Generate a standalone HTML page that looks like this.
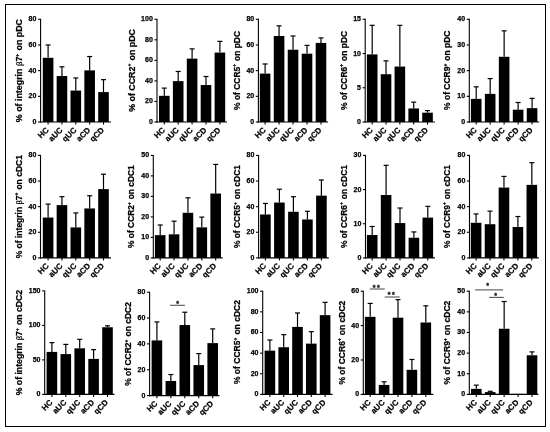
<!DOCTYPE html>
<html><head><meta charset="utf-8"><style>
html,body{margin:0;padding:0;background:#fff;}
body{width:550px;height:432px;overflow:hidden;}
svg{display:block;filter:blur(0.3px);}
text{font-family:"Liberation Sans", Arial, sans-serif;font-weight:bold;fill:#000;stroke:#000;stroke-width:0.25px;}
.tk{font-size:7.0px;text-anchor:end;}
.xl{font-size:8.0px;text-anchor:end;}
.yl{font-size:9.0px;text-anchor:middle;}
.sup{font-size:5px;}
.b{font-family:"Liberation Serif",serif;font-weight:normal;}
.ax{stroke:#000;stroke-width:1.1;}
.eb{stroke:#000;stroke-width:1.2;}
.sg{stroke:#555;stroke-width:1.1;}
.st{font-size:7px;text-anchor:middle;letter-spacing:1.4px;stroke-width:0.4px;fill:#222;stroke:#222;}
rect{fill:#000;}
</style></head><body>
<svg width="550" height="432" viewBox="0 0 550 432">
<rect x="5.5" y="4.5" width="540" height="422" fill="none" stroke="#000" stroke-width="1" style="fill:none"/>
<line x1="40.6" y1="18.8" x2="40.6" y2="122.6" class="ax"/>
<line x1="40" y1="122" x2="111" y2="122" class="ax"/>
<line x1="38" y1="122" x2="40.6" y2="122" class="ax"/>
<text x="36.4" y="124" class="tk">0</text>
<line x1="38" y1="96.33" x2="40.6" y2="96.33" class="ax"/>
<text x="36.4" y="98.33" class="tk">20</text>
<line x1="38" y1="70.65" x2="40.6" y2="70.65" class="ax"/>
<text x="36.4" y="72.65" class="tk">40</text>
<line x1="38" y1="44.98" x2="40.6" y2="44.98" class="ax"/>
<text x="36.4" y="46.98" class="tk">60</text>
<line x1="38" y1="19.3" x2="40.6" y2="19.3" class="ax"/>
<text x="36.4" y="21.3" class="tk">80</text>
<rect x="42.8" y="57.81" width="10.6" height="64.19"/>
<line x1="48.1" y1="44.98" x2="48.1" y2="57.81" class="eb"/>
<line x1="45.6" y1="44.98" x2="50.6" y2="44.98" class="eb"/>
<line x1="48.1" y1="122" x2="48.1" y2="124.6" class="ax"/>
<text x="49.3" y="130.6" class="xl" transform="rotate(-45 49.3 130.6)">HC</text>
<rect x="56.65" y="76.04" width="10.6" height="45.96"/>
<line x1="61.95" y1="66.8" x2="61.95" y2="76.04" class="eb"/>
<line x1="59.45" y1="66.8" x2="64.45" y2="66.8" class="eb"/>
<line x1="61.95" y1="122" x2="61.95" y2="124.6" class="ax"/>
<text x="63.15" y="130.6" class="xl" transform="rotate(-45 63.15 130.6)">aUC</text>
<rect x="70.5" y="90.55" width="10.6" height="31.45"/>
<line x1="75.8" y1="77.97" x2="75.8" y2="90.55" class="eb"/>
<line x1="73.3" y1="77.97" x2="78.3" y2="77.97" class="eb"/>
<line x1="75.8" y1="122" x2="75.8" y2="124.6" class="ax"/>
<text x="77" y="130.6" class="xl" transform="rotate(-45 77 130.6)">qUC</text>
<rect x="84.35" y="70.39" width="10.6" height="51.61"/>
<line x1="89.65" y1="56.53" x2="89.65" y2="70.39" class="eb"/>
<line x1="87.15" y1="56.53" x2="92.15" y2="56.53" class="eb"/>
<line x1="89.65" y1="122" x2="89.65" y2="124.6" class="ax"/>
<text x="90.85" y="130.6" class="xl" transform="rotate(-45 90.85 130.6)">aCD</text>
<rect x="98.2" y="92.09" width="10.6" height="29.91"/>
<line x1="103.5" y1="79.64" x2="103.5" y2="92.09" class="eb"/>
<line x1="101" y1="79.64" x2="106" y2="79.64" class="eb"/>
<line x1="103.5" y1="122" x2="103.5" y2="124.6" class="ax"/>
<text x="104.7" y="130.6" class="xl" transform="rotate(-45 104.7 130.6)">qCD</text>
<text x="22.4" y="70.6" class="yl" textLength="103.2" lengthAdjust="spacingAndGlyphs" transform="rotate(-90 22.4 70.6)">% of integrin <tspan class="b">β</tspan>7<tspan class="sup" dy="-3.6">+</tspan><tspan dy="3.6" dx="0.8"> on pDC</tspan></text>
<line x1="157" y1="18.8" x2="157" y2="122.6" class="ax"/>
<line x1="156.4" y1="122" x2="227" y2="122" class="ax"/>
<line x1="154.4" y1="122" x2="157" y2="122" class="ax"/>
<text x="152.8" y="124" class="tk">0</text>
<line x1="154.4" y1="101.46" x2="157" y2="101.46" class="ax"/>
<text x="152.8" y="103.46" class="tk">20</text>
<line x1="154.4" y1="80.92" x2="157" y2="80.92" class="ax"/>
<text x="152.8" y="82.92" class="tk">40</text>
<line x1="154.4" y1="60.38" x2="157" y2="60.38" class="ax"/>
<text x="152.8" y="62.38" class="tk">60</text>
<line x1="154.4" y1="39.84" x2="157" y2="39.84" class="ax"/>
<text x="152.8" y="41.84" class="tk">80</text>
<line x1="154.4" y1="19.3" x2="157" y2="19.3" class="ax"/>
<text x="152.8" y="21.3" class="tk">100</text>
<rect x="159" y="95.81" width="10.6" height="26.19"/>
<line x1="164.3" y1="88.11" x2="164.3" y2="95.81" class="eb"/>
<line x1="161.8" y1="88.11" x2="166.8" y2="88.11" class="eb"/>
<line x1="164.3" y1="122" x2="164.3" y2="124.6" class="ax"/>
<text x="165.5" y="130.6" class="xl" transform="rotate(-45 165.5 130.6)">HC</text>
<rect x="172.9" y="81.13" width="10.6" height="40.87"/>
<line x1="178.2" y1="71.47" x2="178.2" y2="81.13" class="eb"/>
<line x1="175.7" y1="71.47" x2="180.7" y2="71.47" class="eb"/>
<line x1="178.2" y1="122" x2="178.2" y2="124.6" class="ax"/>
<text x="179.4" y="130.6" class="xl" transform="rotate(-45 179.4 130.6)">aUC</text>
<rect x="186.8" y="58.63" width="10.6" height="63.37"/>
<line x1="192.1" y1="48.88" x2="192.1" y2="58.63" class="eb"/>
<line x1="189.6" y1="48.88" x2="194.6" y2="48.88" class="eb"/>
<line x1="192.1" y1="122" x2="192.1" y2="124.6" class="ax"/>
<text x="193.3" y="130.6" class="xl" transform="rotate(-45 193.3 130.6)">qUC</text>
<rect x="200.7" y="85.03" width="10.6" height="36.97"/>
<line x1="206" y1="76.5" x2="206" y2="85.03" class="eb"/>
<line x1="203.5" y1="76.5" x2="208.5" y2="76.5" class="eb"/>
<line x1="206" y1="122" x2="206" y2="124.6" class="ax"/>
<text x="207.2" y="130.6" class="xl" transform="rotate(-45 207.2 130.6)">aCD</text>
<rect x="214.6" y="52.57" width="10.6" height="69.43"/>
<line x1="219.9" y1="41.38" x2="219.9" y2="52.57" class="eb"/>
<line x1="217.4" y1="41.38" x2="222.4" y2="41.38" class="eb"/>
<line x1="219.9" y1="122" x2="219.9" y2="124.6" class="ax"/>
<text x="221.1" y="130.6" class="xl" transform="rotate(-45 221.1 130.6)">qCD</text>
<text x="134.7" y="70.4" class="yl" textLength="82.8" lengthAdjust="spacingAndGlyphs" transform="rotate(-90 134.7 70.4)">% of CCR2<tspan class="sup" dy="-3.6">+</tspan><tspan dy="3.6" dx="0.8"> on pDC</tspan></text>
<line x1="258.4" y1="18.8" x2="258.4" y2="122.6" class="ax"/>
<line x1="257.8" y1="122" x2="328.1" y2="122" class="ax"/>
<line x1="255.8" y1="122" x2="258.4" y2="122" class="ax"/>
<text x="254.2" y="124" class="tk">0</text>
<line x1="255.8" y1="96.33" x2="258.4" y2="96.33" class="ax"/>
<text x="254.2" y="98.33" class="tk">20</text>
<line x1="255.8" y1="70.65" x2="258.4" y2="70.65" class="ax"/>
<text x="254.2" y="72.65" class="tk">40</text>
<line x1="255.8" y1="44.98" x2="258.4" y2="44.98" class="ax"/>
<text x="254.2" y="46.98" class="tk">60</text>
<line x1="255.8" y1="19.3" x2="258.4" y2="19.3" class="ax"/>
<text x="254.2" y="21.3" class="tk">80</text>
<rect x="259.8" y="73.6" width="10.6" height="48.4"/>
<line x1="265.1" y1="63.97" x2="265.1" y2="73.6" class="eb"/>
<line x1="262.6" y1="63.97" x2="267.6" y2="63.97" class="eb"/>
<line x1="265.1" y1="122" x2="265.1" y2="124.6" class="ax"/>
<text x="266.3" y="130.6" class="xl" transform="rotate(-45 266.3 130.6)">HC</text>
<rect x="273.77" y="35.99" width="10.6" height="86.01"/>
<line x1="279.07" y1="25.85" x2="279.07" y2="35.99" class="eb"/>
<line x1="276.57" y1="25.85" x2="281.57" y2="25.85" class="eb"/>
<line x1="279.07" y1="122" x2="279.07" y2="124.6" class="ax"/>
<text x="280.27" y="130.6" class="xl" transform="rotate(-45 280.27 130.6)">aUC</text>
<rect x="287.74" y="49.72" width="10.6" height="72.28"/>
<line x1="293.04" y1="35.99" x2="293.04" y2="49.72" class="eb"/>
<line x1="290.54" y1="35.99" x2="295.54" y2="35.99" class="eb"/>
<line x1="293.04" y1="122" x2="293.04" y2="124.6" class="ax"/>
<text x="294.24" y="130.6" class="xl" transform="rotate(-45 294.24 130.6)">qUC</text>
<rect x="301.71" y="53.7" width="10.6" height="68.3"/>
<line x1="307.01" y1="45.36" x2="307.01" y2="53.7" class="eb"/>
<line x1="304.51" y1="45.36" x2="309.51" y2="45.36" class="eb"/>
<line x1="307.01" y1="122" x2="307.01" y2="124.6" class="ax"/>
<text x="308.21" y="130.6" class="xl" transform="rotate(-45 308.21 130.6)">aCD</text>
<rect x="315.68" y="42.92" width="10.6" height="79.08"/>
<line x1="320.98" y1="37.91" x2="320.98" y2="42.92" class="eb"/>
<line x1="318.48" y1="37.91" x2="323.48" y2="37.91" class="eb"/>
<line x1="320.98" y1="122" x2="320.98" y2="124.6" class="ax"/>
<text x="322.18" y="130.6" class="xl" transform="rotate(-45 322.18 130.6)">qCD</text>
<text x="239.7" y="70.45" class="yl" textLength="78.9" lengthAdjust="spacingAndGlyphs" transform="rotate(-90 239.7 70.45)">% of CCR5<tspan class="sup" dy="-3.6">+</tspan><tspan dy="3.6" dx="0.8"> on pDC</tspan></text>
<line x1="365.2" y1="18.8" x2="365.2" y2="122.6" class="ax"/>
<line x1="364.6" y1="122" x2="434.9" y2="122" class="ax"/>
<line x1="362.6" y1="122" x2="365.2" y2="122" class="ax"/>
<text x="361" y="124" class="tk">0</text>
<line x1="362.6" y1="87.77" x2="365.2" y2="87.77" class="ax"/>
<text x="361" y="89.77" class="tk">5</text>
<line x1="362.6" y1="53.53" x2="365.2" y2="53.53" class="ax"/>
<text x="361" y="55.53" class="tk">10</text>
<line x1="362.6" y1="19.3" x2="365.2" y2="19.3" class="ax"/>
<text x="361" y="21.3" class="tk">15</text>
<rect x="366.9" y="54.42" width="10.6" height="67.58"/>
<line x1="372.2" y1="25.33" x2="372.2" y2="54.42" class="eb"/>
<line x1="369.7" y1="25.33" x2="374.7" y2="25.33" class="eb"/>
<line x1="372.2" y1="122" x2="372.2" y2="124.6" class="ax"/>
<text x="373.4" y="130.6" class="xl" transform="rotate(-45 373.4 130.6)">HC</text>
<rect x="380.73" y="74.21" width="10.6" height="47.79"/>
<line x1="386.03" y1="60.86" x2="386.03" y2="74.21" class="eb"/>
<line x1="383.53" y1="60.86" x2="388.53" y2="60.86" class="eb"/>
<line x1="386.03" y1="122" x2="386.03" y2="124.6" class="ax"/>
<text x="387.23" y="130.6" class="xl" transform="rotate(-45 387.23 130.6)">aUC</text>
<rect x="394.56" y="66.54" width="10.6" height="55.46"/>
<line x1="399.86" y1="25.33" x2="399.86" y2="66.54" class="eb"/>
<line x1="397.36" y1="25.33" x2="402.36" y2="25.33" class="eb"/>
<line x1="399.86" y1="122" x2="399.86" y2="124.6" class="ax"/>
<text x="401.06" y="130.6" class="xl" transform="rotate(-45 401.06 130.6)">qUC</text>
<rect x="408.39" y="108.44" width="10.6" height="13.56"/>
<line x1="413.69" y1="102.14" x2="413.69" y2="108.44" class="eb"/>
<line x1="411.19" y1="102.14" x2="416.19" y2="102.14" class="eb"/>
<line x1="413.69" y1="122" x2="413.69" y2="124.6" class="ax"/>
<text x="414.89" y="130.6" class="xl" transform="rotate(-45 414.89 130.6)">aCD</text>
<rect x="422.22" y="112.69" width="10.6" height="9.31"/>
<line x1="427.52" y1="110.57" x2="427.52" y2="112.69" class="eb"/>
<line x1="425.02" y1="110.57" x2="430.02" y2="110.57" class="eb"/>
<line x1="427.52" y1="122" x2="427.52" y2="124.6" class="ax"/>
<text x="428.72" y="130.6" class="xl" transform="rotate(-45 428.72 130.6)">qCD</text>
<text x="346.65" y="70.4" class="yl" textLength="79" lengthAdjust="spacingAndGlyphs" transform="rotate(-90 346.65 70.4)">% of CCR6<tspan class="sup" dy="-3.6">+</tspan><tspan dy="3.6" dx="0.8"> on pDC</tspan></text>
<line x1="469.3" y1="18.8" x2="469.3" y2="122.6" class="ax"/>
<line x1="468.7" y1="122" x2="539.2" y2="122" class="ax"/>
<line x1="466.7" y1="122" x2="469.3" y2="122" class="ax"/>
<text x="465.1" y="124" class="tk">0</text>
<line x1="466.7" y1="96.33" x2="469.3" y2="96.33" class="ax"/>
<text x="465.1" y="98.33" class="tk">10</text>
<line x1="466.7" y1="70.65" x2="469.3" y2="70.65" class="ax"/>
<text x="465.1" y="72.65" class="tk">20</text>
<line x1="466.7" y1="44.98" x2="469.3" y2="44.98" class="ax"/>
<text x="465.1" y="46.98" class="tk">30</text>
<line x1="466.7" y1="19.3" x2="469.3" y2="19.3" class="ax"/>
<text x="465.1" y="21.3" class="tk">40</text>
<rect x="470.9" y="98.89" width="10.6" height="23.11"/>
<line x1="476.2" y1="86.83" x2="476.2" y2="98.89" class="eb"/>
<line x1="473.7" y1="86.83" x2="478.7" y2="86.83" class="eb"/>
<line x1="476.2" y1="122" x2="476.2" y2="124.6" class="ax"/>
<text x="477.4" y="130.6" class="xl" transform="rotate(-45 477.4 130.6)">HC</text>
<rect x="484.87" y="93.89" width="10.6" height="28.11"/>
<line x1="490.17" y1="78.61" x2="490.17" y2="93.89" class="eb"/>
<line x1="487.67" y1="78.61" x2="492.67" y2="78.61" class="eb"/>
<line x1="490.17" y1="122" x2="490.17" y2="124.6" class="ax"/>
<text x="491.37" y="130.6" class="xl" transform="rotate(-45 491.37 130.6)">aUC</text>
<rect x="498.84" y="56.79" width="10.6" height="65.21"/>
<line x1="504.14" y1="30.85" x2="504.14" y2="56.79" class="eb"/>
<line x1="501.64" y1="30.85" x2="506.64" y2="30.85" class="eb"/>
<line x1="504.14" y1="122" x2="504.14" y2="124.6" class="ax"/>
<text x="505.34" y="130.6" class="xl" transform="rotate(-45 505.34 130.6)">qUC</text>
<rect x="512.81" y="109.68" width="10.6" height="12.32"/>
<line x1="518.11" y1="102.49" x2="518.11" y2="109.68" class="eb"/>
<line x1="515.61" y1="102.49" x2="520.61" y2="102.49" class="eb"/>
<line x1="518.11" y1="122" x2="518.11" y2="124.6" class="ax"/>
<text x="519.31" y="130.6" class="xl" transform="rotate(-45 519.31 130.6)">aCD</text>
<rect x="526.78" y="108.14" width="10.6" height="13.86"/>
<line x1="532.08" y1="98.38" x2="532.08" y2="108.14" class="eb"/>
<line x1="529.58" y1="98.38" x2="534.58" y2="98.38" class="eb"/>
<line x1="532.08" y1="122" x2="532.08" y2="124.6" class="ax"/>
<text x="533.28" y="130.6" class="xl" transform="rotate(-45 533.28 130.6)">qCD</text>
<text x="450.4" y="70.25" class="yl" textLength="79.3" lengthAdjust="spacingAndGlyphs" transform="rotate(-90 450.4 70.25)">% of CCR9<tspan class="sup" dy="-3.6">+</tspan><tspan dy="3.6" dx="0.8"> on pDC</tspan></text>
<line x1="40.5" y1="154.9" x2="40.5" y2="258.5" class="ax"/>
<line x1="39.9" y1="257.9" x2="111" y2="257.9" class="ax"/>
<line x1="37.9" y1="257.9" x2="40.5" y2="257.9" class="ax"/>
<text x="36.3" y="259.9" class="tk">0</text>
<line x1="37.9" y1="232.27" x2="40.5" y2="232.27" class="ax"/>
<text x="36.3" y="234.27" class="tk">20</text>
<line x1="37.9" y1="206.65" x2="40.5" y2="206.65" class="ax"/>
<text x="36.3" y="208.65" class="tk">40</text>
<line x1="37.9" y1="181.03" x2="40.5" y2="181.03" class="ax"/>
<text x="36.3" y="183.03" class="tk">60</text>
<line x1="37.9" y1="155.4" x2="40.5" y2="155.4" class="ax"/>
<text x="36.3" y="157.4" class="tk">80</text>
<rect x="42.8" y="217.54" width="10.6" height="40.36"/>
<line x1="48.1" y1="204.09" x2="48.1" y2="217.54" class="eb"/>
<line x1="45.6" y1="204.09" x2="50.6" y2="204.09" class="eb"/>
<line x1="48.1" y1="257.9" x2="48.1" y2="260.5" class="ax"/>
<text x="49.3" y="266.5" class="xl" transform="rotate(-45 49.3 266.5)">HC</text>
<rect x="56.65" y="205.11" width="10.6" height="52.79"/>
<line x1="61.95" y1="196.66" x2="61.95" y2="205.11" class="eb"/>
<line x1="59.45" y1="196.66" x2="64.45" y2="196.66" class="eb"/>
<line x1="61.95" y1="257.9" x2="61.95" y2="260.5" class="ax"/>
<text x="63.15" y="266.5" class="xl" transform="rotate(-45 63.15 266.5)">aUC</text>
<rect x="70.5" y="227.41" width="10.6" height="30.49"/>
<line x1="75.8" y1="212.93" x2="75.8" y2="227.41" class="eb"/>
<line x1="73.3" y1="212.93" x2="78.3" y2="212.93" class="eb"/>
<line x1="75.8" y1="257.9" x2="75.8" y2="260.5" class="ax"/>
<text x="77" y="266.5" class="xl" transform="rotate(-45 77 266.5)">qUC</text>
<rect x="84.35" y="208.44" width="10.6" height="49.46"/>
<line x1="89.65" y1="195.76" x2="89.65" y2="208.44" class="eb"/>
<line x1="87.15" y1="195.76" x2="92.15" y2="195.76" class="eb"/>
<line x1="89.65" y1="257.9" x2="89.65" y2="260.5" class="ax"/>
<text x="90.85" y="266.5" class="xl" transform="rotate(-45 90.85 266.5)">aCD</text>
<rect x="98.2" y="189.1" width="10.6" height="68.8"/>
<line x1="103.5" y1="174.23" x2="103.5" y2="189.1" class="eb"/>
<line x1="101" y1="174.23" x2="106" y2="174.23" class="eb"/>
<line x1="103.5" y1="257.9" x2="103.5" y2="260.5" class="ax"/>
<text x="104.7" y="266.5" class="xl" transform="rotate(-45 104.7 266.5)">qCD</text>
<text x="21.9" y="206.7" class="yl" textLength="103.2" lengthAdjust="spacingAndGlyphs" transform="rotate(-90 21.9 206.7)">% of integrin <tspan class="b">β</tspan>7<tspan class="sup" dy="-3.6">+</tspan><tspan dy="3.6" dx="0.8"> on cDC1</tspan></text>
<line x1="153.3" y1="154.9" x2="153.3" y2="258.5" class="ax"/>
<line x1="152.7" y1="257.9" x2="222.7" y2="257.9" class="ax"/>
<line x1="150.7" y1="257.9" x2="153.3" y2="257.9" class="ax"/>
<text x="149.1" y="259.9" class="tk">0</text>
<line x1="150.7" y1="237.4" x2="153.3" y2="237.4" class="ax"/>
<text x="149.1" y="239.4" class="tk">10</text>
<line x1="150.7" y1="216.9" x2="153.3" y2="216.9" class="ax"/>
<text x="149.1" y="218.9" class="tk">20</text>
<line x1="150.7" y1="196.4" x2="153.3" y2="196.4" class="ax"/>
<text x="149.1" y="198.4" class="tk">30</text>
<line x1="150.7" y1="175.9" x2="153.3" y2="175.9" class="ax"/>
<text x="149.1" y="177.9" class="tk">40</text>
<line x1="150.7" y1="155.4" x2="153.3" y2="155.4" class="ax"/>
<text x="149.1" y="157.4" class="tk">50</text>
<rect x="154.9" y="235.14" width="10.6" height="22.75"/>
<line x1="160.2" y1="225" x2="160.2" y2="235.14" class="eb"/>
<line x1="157.7" y1="225" x2="162.7" y2="225" class="eb"/>
<line x1="160.2" y1="257.9" x2="160.2" y2="260.5" class="ax"/>
<text x="161.4" y="266.5" class="xl" transform="rotate(-45 161.4 266.5)">HC</text>
<rect x="168.77" y="234.32" width="10.6" height="23.57"/>
<line x1="174.07" y1="221.2" x2="174.07" y2="234.32" class="eb"/>
<line x1="171.57" y1="221.2" x2="176.57" y2="221.2" class="eb"/>
<line x1="174.07" y1="257.9" x2="174.07" y2="260.5" class="ax"/>
<text x="175.27" y="266.5" class="xl" transform="rotate(-45 175.27 266.5)">aUC</text>
<rect x="182.64" y="212.8" width="10.6" height="45.1"/>
<line x1="187.94" y1="197.83" x2="187.94" y2="212.8" class="eb"/>
<line x1="185.44" y1="197.83" x2="190.44" y2="197.83" class="eb"/>
<line x1="187.94" y1="257.9" x2="187.94" y2="260.5" class="ax"/>
<text x="189.14" y="266.5" class="xl" transform="rotate(-45 189.14 266.5)">qUC</text>
<rect x="196.51" y="227.35" width="10.6" height="30.54"/>
<line x1="201.81" y1="217.1" x2="201.81" y2="227.35" class="eb"/>
<line x1="199.31" y1="217.1" x2="204.31" y2="217.1" class="eb"/>
<line x1="201.81" y1="257.9" x2="201.81" y2="260.5" class="ax"/>
<text x="203.01" y="266.5" class="xl" transform="rotate(-45 203.01 266.5)">aCD</text>
<rect x="210.38" y="193.53" width="10.6" height="64.37"/>
<line x1="215.68" y1="164.42" x2="215.68" y2="193.53" class="eb"/>
<line x1="213.18" y1="164.42" x2="218.18" y2="164.42" class="eb"/>
<line x1="215.68" y1="257.9" x2="215.68" y2="260.5" class="ax"/>
<text x="216.88" y="266.5" class="xl" transform="rotate(-45 216.88 266.5)">qCD</text>
<text x="134.45" y="206.6" class="yl" textLength="82.6" lengthAdjust="spacingAndGlyphs" transform="rotate(-90 134.45 206.6)">% of CCR2<tspan class="sup" dy="-3.6">+</tspan><tspan dy="3.6" dx="0.8"> on cDC1</tspan></text>
<line x1="258.6" y1="154.9" x2="258.6" y2="258.5" class="ax"/>
<line x1="258" y1="257.9" x2="328.8" y2="257.9" class="ax"/>
<line x1="256" y1="257.9" x2="258.6" y2="257.9" class="ax"/>
<text x="254.4" y="259.9" class="tk">0</text>
<line x1="256" y1="232.27" x2="258.6" y2="232.27" class="ax"/>
<text x="254.4" y="234.27" class="tk">20</text>
<line x1="256" y1="206.65" x2="258.6" y2="206.65" class="ax"/>
<text x="254.4" y="208.65" class="tk">40</text>
<line x1="256" y1="181.03" x2="258.6" y2="181.03" class="ax"/>
<text x="254.4" y="183.03" class="tk">60</text>
<line x1="256" y1="155.4" x2="258.6" y2="155.4" class="ax"/>
<text x="254.4" y="157.4" class="tk">80</text>
<rect x="260.1" y="214.47" width="10.6" height="43.43"/>
<line x1="265.4" y1="203.45" x2="265.4" y2="214.47" class="eb"/>
<line x1="262.9" y1="203.45" x2="267.9" y2="203.45" class="eb"/>
<line x1="265.4" y1="257.9" x2="265.4" y2="260.5" class="ax"/>
<text x="266.6" y="266.5" class="xl" transform="rotate(-45 266.6 266.5)">HC</text>
<rect x="274.1" y="202.55" width="10.6" height="55.35"/>
<line x1="279.4" y1="189.22" x2="279.4" y2="202.55" class="eb"/>
<line x1="276.9" y1="189.22" x2="281.9" y2="189.22" class="eb"/>
<line x1="279.4" y1="257.9" x2="279.4" y2="260.5" class="ax"/>
<text x="280.6" y="266.5" class="xl" transform="rotate(-45 280.6 266.5)">aUC</text>
<rect x="288.1" y="211.77" width="10.6" height="46.12"/>
<line x1="293.4" y1="196.66" x2="293.4" y2="211.77" class="eb"/>
<line x1="290.9" y1="196.66" x2="295.9" y2="196.66" class="eb"/>
<line x1="293.4" y1="257.9" x2="293.4" y2="260.5" class="ax"/>
<text x="294.6" y="266.5" class="xl" transform="rotate(-45 294.6 266.5)">qUC</text>
<rect x="302.1" y="219.46" width="10.6" height="38.44"/>
<line x1="307.4" y1="211.26" x2="307.4" y2="219.46" class="eb"/>
<line x1="304.9" y1="211.26" x2="309.9" y2="211.26" class="eb"/>
<line x1="307.4" y1="257.9" x2="307.4" y2="260.5" class="ax"/>
<text x="308.6" y="266.5" class="xl" transform="rotate(-45 308.6 266.5)">aCD</text>
<rect x="316.1" y="195.63" width="10.6" height="62.27"/>
<line x1="321.4" y1="180" x2="321.4" y2="195.63" class="eb"/>
<line x1="318.9" y1="180" x2="323.9" y2="180" class="eb"/>
<line x1="321.4" y1="257.9" x2="321.4" y2="260.5" class="ax"/>
<text x="322.6" y="266.5" class="xl" transform="rotate(-45 322.6 266.5)">qCD</text>
<text x="240.1" y="206.6" class="yl" textLength="83" lengthAdjust="spacingAndGlyphs" transform="rotate(-90 240.1 206.6)">% of CCR5<tspan class="sup" dy="-3.6">+</tspan><tspan dy="3.6" dx="0.8"> on cDC1</tspan></text>
<line x1="365.5" y1="154.9" x2="365.5" y2="258.5" class="ax"/>
<line x1="364.9" y1="257.9" x2="434.9" y2="257.9" class="ax"/>
<line x1="362.9" y1="257.9" x2="365.5" y2="257.9" class="ax"/>
<text x="361.3" y="259.9" class="tk">0</text>
<line x1="362.9" y1="223.73" x2="365.5" y2="223.73" class="ax"/>
<text x="361.3" y="225.73" class="tk">10</text>
<line x1="362.9" y1="189.57" x2="365.5" y2="189.57" class="ax"/>
<text x="361.3" y="191.57" class="tk">20</text>
<line x1="362.9" y1="155.4" x2="365.5" y2="155.4" class="ax"/>
<text x="361.3" y="157.4" class="tk">30</text>
<rect x="366.9" y="235.01" width="10.6" height="22.89"/>
<line x1="372.2" y1="226.47" x2="372.2" y2="235.01" class="eb"/>
<line x1="369.7" y1="226.47" x2="374.7" y2="226.47" class="eb"/>
<line x1="372.2" y1="257.9" x2="372.2" y2="260.5" class="ax"/>
<text x="373.4" y="266.5" class="xl" transform="rotate(-45 373.4 266.5)">HC</text>
<rect x="380.8" y="195.03" width="10.6" height="62.87"/>
<line x1="386.1" y1="165.31" x2="386.1" y2="195.03" class="eb"/>
<line x1="383.6" y1="165.31" x2="388.6" y2="165.31" class="eb"/>
<line x1="386.1" y1="257.9" x2="386.1" y2="260.5" class="ax"/>
<text x="387.3" y="266.5" class="xl" transform="rotate(-45 387.3 266.5)">aUC</text>
<rect x="394.7" y="223.05" width="10.6" height="34.85"/>
<line x1="400" y1="208.02" x2="400" y2="223.05" class="eb"/>
<line x1="397.5" y1="208.02" x2="402.5" y2="208.02" class="eb"/>
<line x1="400" y1="257.9" x2="400" y2="260.5" class="ax"/>
<text x="401.2" y="266.5" class="xl" transform="rotate(-45 401.2 266.5)">qUC</text>
<rect x="408.6" y="237.74" width="10.6" height="20.16"/>
<line x1="413.9" y1="231.93" x2="413.9" y2="237.74" class="eb"/>
<line x1="411.4" y1="231.93" x2="416.4" y2="231.93" class="eb"/>
<line x1="413.9" y1="257.9" x2="413.9" y2="260.5" class="ax"/>
<text x="415.1" y="266.5" class="xl" transform="rotate(-45 415.1 266.5)">aCD</text>
<rect x="422.5" y="217.58" width="10.6" height="40.32"/>
<line x1="427.8" y1="206.31" x2="427.8" y2="217.58" class="eb"/>
<line x1="425.3" y1="206.31" x2="430.3" y2="206.31" class="eb"/>
<line x1="427.8" y1="257.9" x2="427.8" y2="260.5" class="ax"/>
<text x="429" y="266.5" class="xl" transform="rotate(-45 429 266.5)">qCD</text>
<text x="346.55" y="206.6" class="yl" textLength="83" lengthAdjust="spacingAndGlyphs" transform="rotate(-90 346.55 206.6)">% of CCR6<tspan class="sup" dy="-3.6">+</tspan><tspan dy="3.6" dx="0.8"> on cDC1</tspan></text>
<line x1="469.5" y1="154.9" x2="469.5" y2="258.5" class="ax"/>
<line x1="468.9" y1="257.9" x2="538.8" y2="257.9" class="ax"/>
<line x1="466.9" y1="257.9" x2="469.5" y2="257.9" class="ax"/>
<text x="465.3" y="259.9" class="tk">0</text>
<line x1="466.9" y1="232.27" x2="469.5" y2="232.27" class="ax"/>
<text x="465.3" y="234.27" class="tk">20</text>
<line x1="466.9" y1="206.65" x2="469.5" y2="206.65" class="ax"/>
<text x="465.3" y="208.65" class="tk">40</text>
<line x1="466.9" y1="181.03" x2="469.5" y2="181.03" class="ax"/>
<text x="465.3" y="183.03" class="tk">60</text>
<line x1="466.9" y1="155.4" x2="469.5" y2="155.4" class="ax"/>
<text x="465.3" y="157.4" class="tk">80</text>
<rect x="470.8" y="222.79" width="10.6" height="35.11"/>
<line x1="476.1" y1="213.95" x2="476.1" y2="222.79" class="eb"/>
<line x1="473.6" y1="213.95" x2="478.6" y2="213.95" class="eb"/>
<line x1="476.1" y1="257.9" x2="476.1" y2="260.5" class="ax"/>
<text x="477.3" y="266.5" class="xl" transform="rotate(-45 477.3 266.5)">HC</text>
<rect x="484.73" y="224.2" width="10.6" height="33.7"/>
<line x1="490.03" y1="211.13" x2="490.03" y2="224.2" class="eb"/>
<line x1="487.53" y1="211.13" x2="492.53" y2="211.13" class="eb"/>
<line x1="490.03" y1="257.9" x2="490.03" y2="260.5" class="ax"/>
<text x="491.23" y="266.5" class="xl" transform="rotate(-45 491.23 266.5)">aUC</text>
<rect x="498.66" y="187.56" width="10.6" height="70.34"/>
<line x1="503.96" y1="176.41" x2="503.96" y2="187.56" class="eb"/>
<line x1="501.46" y1="176.41" x2="506.46" y2="176.41" class="eb"/>
<line x1="503.96" y1="257.9" x2="503.96" y2="260.5" class="ax"/>
<text x="505.16" y="266.5" class="xl" transform="rotate(-45 505.16 266.5)">qUC</text>
<rect x="512.59" y="227.02" width="10.6" height="30.88"/>
<line x1="517.89" y1="216.52" x2="517.89" y2="227.02" class="eb"/>
<line x1="515.39" y1="216.52" x2="520.39" y2="216.52" class="eb"/>
<line x1="517.89" y1="257.9" x2="517.89" y2="260.5" class="ax"/>
<text x="519.09" y="266.5" class="xl" transform="rotate(-45 519.09 266.5)">aCD</text>
<rect x="526.52" y="184.87" width="10.6" height="73.03"/>
<line x1="531.82" y1="162.7" x2="531.82" y2="184.87" class="eb"/>
<line x1="529.32" y1="162.7" x2="534.32" y2="162.7" class="eb"/>
<line x1="531.82" y1="257.9" x2="531.82" y2="260.5" class="ax"/>
<text x="533.02" y="266.5" class="xl" transform="rotate(-45 533.02 266.5)">qCD</text>
<text x="450" y="206.55" class="yl" textLength="82.9" lengthAdjust="spacingAndGlyphs" transform="rotate(-90 450 206.55)">% of CCR9<tspan class="sup" dy="-3.6">+</tspan><tspan dy="3.6" dx="0.8"> on cDC1</tspan></text>
<line x1="44.7" y1="290.4" x2="44.7" y2="395" class="ax"/>
<line x1="44.1" y1="394.4" x2="114.5" y2="394.4" class="ax"/>
<line x1="42.1" y1="394.4" x2="44.7" y2="394.4" class="ax"/>
<text x="40.5" y="396.4" class="tk">0</text>
<line x1="42.1" y1="359.9" x2="44.7" y2="359.9" class="ax"/>
<text x="40.5" y="361.9" class="tk">50</text>
<line x1="42.1" y1="325.4" x2="44.7" y2="325.4" class="ax"/>
<text x="40.5" y="327.4" class="tk">100</text>
<line x1="42.1" y1="290.9" x2="44.7" y2="290.9" class="ax"/>
<text x="40.5" y="292.9" class="tk">150</text>
<rect x="46.6" y="351.9" width="10.6" height="42.5"/>
<line x1="51.9" y1="342.65" x2="51.9" y2="351.9" class="eb"/>
<line x1="49.4" y1="342.65" x2="54.4" y2="342.65" class="eb"/>
<line x1="51.9" y1="394.4" x2="51.9" y2="397" class="ax"/>
<text x="53.1" y="403" class="xl" transform="rotate(-45 53.1 403)">HC</text>
<rect x="60.5" y="354.1" width="10.6" height="40.3"/>
<line x1="65.8" y1="344.38" x2="65.8" y2="354.1" class="eb"/>
<line x1="63.3" y1="344.38" x2="68.3" y2="344.38" class="eb"/>
<line x1="65.8" y1="394.4" x2="65.8" y2="397" class="ax"/>
<text x="67" y="403" class="xl" transform="rotate(-45 67 403)">aUC</text>
<rect x="74.4" y="348.31" width="10.6" height="46.09"/>
<line x1="79.7" y1="339.34" x2="79.7" y2="348.31" class="eb"/>
<line x1="77.2" y1="339.34" x2="82.2" y2="339.34" class="eb"/>
<line x1="79.7" y1="394.4" x2="79.7" y2="397" class="ax"/>
<text x="80.9" y="403" class="xl" transform="rotate(-45 80.9 403)">qUC</text>
<rect x="88.3" y="358.87" width="10.6" height="35.53"/>
<line x1="93.6" y1="349.62" x2="93.6" y2="358.87" class="eb"/>
<line x1="91.1" y1="349.62" x2="96.1" y2="349.62" class="eb"/>
<line x1="93.6" y1="394.4" x2="93.6" y2="397" class="ax"/>
<text x="94.8" y="403" class="xl" transform="rotate(-45 94.8 403)">aCD</text>
<rect x="102.2" y="327.26" width="10.6" height="67.14"/>
<line x1="107.5" y1="325.81" x2="107.5" y2="327.26" class="eb"/>
<line x1="105" y1="325.81" x2="110" y2="325.81" class="eb"/>
<line x1="107.5" y1="394.4" x2="107.5" y2="397" class="ax"/>
<text x="108.7" y="403" class="xl" transform="rotate(-45 108.7 403)">qCD</text>
<text x="22.4" y="342.55" class="yl" textLength="105.5" lengthAdjust="spacingAndGlyphs" transform="rotate(-90 22.4 342.55)">% of integrin <tspan class="b">β</tspan>7<tspan class="sup" dy="-3.6">+</tspan><tspan dy="3.6" dx="0.8"> on cDC2</tspan></text>
<line x1="149.6" y1="291.7" x2="149.6" y2="396.2" class="ax"/>
<line x1="149" y1="395.6" x2="219.5" y2="395.6" class="ax"/>
<line x1="147" y1="395.6" x2="149.6" y2="395.6" class="ax"/>
<text x="145.4" y="397.6" class="tk">0</text>
<line x1="147" y1="369.75" x2="149.6" y2="369.75" class="ax"/>
<text x="145.4" y="371.75" class="tk">20</text>
<line x1="147" y1="343.9" x2="149.6" y2="343.9" class="ax"/>
<text x="145.4" y="345.9" class="tk">40</text>
<line x1="147" y1="318.05" x2="149.6" y2="318.05" class="ax"/>
<text x="145.4" y="320.05" class="tk">60</text>
<line x1="147" y1="292.2" x2="149.6" y2="292.2" class="ax"/>
<text x="145.4" y="294.2" class="tk">80</text>
<rect x="151.6" y="340.41" width="10.6" height="55.19"/>
<line x1="156.9" y1="321.93" x2="156.9" y2="340.41" class="eb"/>
<line x1="154.4" y1="321.93" x2="159.4" y2="321.93" class="eb"/>
<line x1="156.9" y1="395.6" x2="156.9" y2="398.2" class="ax"/>
<text x="158.1" y="404.2" class="xl" transform="rotate(-45 158.1 404.2)">HC</text>
<rect x="165.55" y="380.99" width="10.6" height="14.61"/>
<line x1="170.85" y1="374.53" x2="170.85" y2="380.99" class="eb"/>
<line x1="168.35" y1="374.53" x2="173.35" y2="374.53" class="eb"/>
<line x1="170.85" y1="395.6" x2="170.85" y2="398.2" class="ax"/>
<text x="172.05" y="404.2" class="xl" transform="rotate(-45 172.05 404.2)">aUC</text>
<rect x="179.5" y="325.03" width="10.6" height="70.57"/>
<line x1="184.8" y1="312.23" x2="184.8" y2="325.03" class="eb"/>
<line x1="182.3" y1="312.23" x2="187.3" y2="312.23" class="eb"/>
<line x1="184.8" y1="395.6" x2="184.8" y2="398.2" class="ax"/>
<text x="186" y="404.2" class="xl" transform="rotate(-45 186 404.2)">qUC</text>
<rect x="193.45" y="365.1" width="10.6" height="30.5"/>
<line x1="198.75" y1="353.59" x2="198.75" y2="365.1" class="eb"/>
<line x1="196.25" y1="353.59" x2="201.25" y2="353.59" class="eb"/>
<line x1="198.75" y1="395.6" x2="198.75" y2="398.2" class="ax"/>
<text x="199.95" y="404.2" class="xl" transform="rotate(-45 199.95 404.2)">aCD</text>
<rect x="207.4" y="343.12" width="10.6" height="52.48"/>
<line x1="212.7" y1="328.91" x2="212.7" y2="343.12" class="eb"/>
<line x1="210.2" y1="328.91" x2="215.2" y2="328.91" class="eb"/>
<line x1="212.7" y1="395.6" x2="212.7" y2="398.2" class="ax"/>
<text x="213.9" y="404.2" class="xl" transform="rotate(-45 213.9 404.2)">qCD</text>
<text x="131.2" y="343.95" class="yl" textLength="83.7" lengthAdjust="spacingAndGlyphs" transform="rotate(-90 131.2 343.95)">% of CCR2<tspan class="sup" dy="-3.6">+</tspan><tspan dy="3.6" dx="0.8"> on cDC2</tspan></text>
<line x1="262.7" y1="290.7" x2="262.7" y2="395" class="ax"/>
<line x1="262.1" y1="394.4" x2="332.5" y2="394.4" class="ax"/>
<line x1="260.1" y1="394.4" x2="262.7" y2="394.4" class="ax"/>
<text x="258.5" y="396.4" class="tk">0</text>
<line x1="260.1" y1="373.76" x2="262.7" y2="373.76" class="ax"/>
<text x="258.5" y="375.76" class="tk">20</text>
<line x1="260.1" y1="353.12" x2="262.7" y2="353.12" class="ax"/>
<text x="258.5" y="355.12" class="tk">40</text>
<line x1="260.1" y1="332.48" x2="262.7" y2="332.48" class="ax"/>
<text x="258.5" y="334.48" class="tk">60</text>
<line x1="260.1" y1="311.84" x2="262.7" y2="311.84" class="ax"/>
<text x="258.5" y="313.84" class="tk">80</text>
<line x1="260.1" y1="291.2" x2="262.7" y2="291.2" class="ax"/>
<text x="258.5" y="293.2" class="tk">100</text>
<rect x="264.6" y="350.64" width="10.6" height="43.76"/>
<line x1="269.9" y1="340.01" x2="269.9" y2="350.64" class="eb"/>
<line x1="267.4" y1="340.01" x2="272.4" y2="340.01" class="eb"/>
<line x1="269.9" y1="394.4" x2="269.9" y2="397" class="ax"/>
<text x="271.1" y="403" class="xl" transform="rotate(-45 271.1 403)">HC</text>
<rect x="278.4" y="347.24" width="10.6" height="47.16"/>
<line x1="283.7" y1="334.65" x2="283.7" y2="347.24" class="eb"/>
<line x1="281.2" y1="334.65" x2="286.2" y2="334.65" class="eb"/>
<line x1="283.7" y1="394.4" x2="283.7" y2="397" class="ax"/>
<text x="284.9" y="403" class="xl" transform="rotate(-45 284.9 403)">aUC</text>
<rect x="292.2" y="326.91" width="10.6" height="67.49"/>
<line x1="297.5" y1="312.98" x2="297.5" y2="326.91" class="eb"/>
<line x1="295" y1="312.98" x2="300" y2="312.98" class="eb"/>
<line x1="297.5" y1="394.4" x2="297.5" y2="397" class="ax"/>
<text x="298.7" y="403" class="xl" transform="rotate(-45 298.7 403)">qUC</text>
<rect x="306" y="343.63" width="10.6" height="50.77"/>
<line x1="311.3" y1="331.65" x2="311.3" y2="343.63" class="eb"/>
<line x1="308.8" y1="331.65" x2="313.8" y2="331.65" class="eb"/>
<line x1="311.3" y1="394.4" x2="311.3" y2="397" class="ax"/>
<text x="312.5" y="403" class="xl" transform="rotate(-45 312.5 403)">aCD</text>
<rect x="319.8" y="315.14" width="10.6" height="79.26"/>
<line x1="325.1" y1="302.35" x2="325.1" y2="315.14" class="eb"/>
<line x1="322.6" y1="302.35" x2="327.6" y2="302.35" class="eb"/>
<line x1="325.1" y1="394.4" x2="325.1" y2="397" class="ax"/>
<text x="326.3" y="403" class="xl" transform="rotate(-45 326.3 403)">qCD</text>
<text x="240.15" y="342.05" class="yl" textLength="84.1" lengthAdjust="spacingAndGlyphs" transform="rotate(-90 240.15 342.05)">% of CCR5<tspan class="sup" dy="-3.6">+</tspan><tspan dy="3.6" dx="0.8"> on cDC2</tspan></text>
<line x1="363.3" y1="290.7" x2="363.3" y2="395" class="ax"/>
<line x1="362.7" y1="394.4" x2="433.3" y2="394.4" class="ax"/>
<line x1="360.7" y1="394.4" x2="363.3" y2="394.4" class="ax"/>
<text x="359.1" y="396.4" class="tk">0</text>
<line x1="360.7" y1="360" x2="363.3" y2="360" class="ax"/>
<text x="359.1" y="362" class="tk">20</text>
<line x1="360.7" y1="325.6" x2="363.3" y2="325.6" class="ax"/>
<text x="359.1" y="327.6" class="tk">40</text>
<line x1="360.7" y1="291.2" x2="363.3" y2="291.2" class="ax"/>
<text x="359.1" y="293.2" class="tk">60</text>
<rect x="364.9" y="316.83" width="10.6" height="77.57"/>
<line x1="370.2" y1="303.41" x2="370.2" y2="316.83" class="eb"/>
<line x1="367.7" y1="303.41" x2="372.7" y2="303.41" class="eb"/>
<line x1="370.2" y1="394.4" x2="370.2" y2="397" class="ax"/>
<text x="371.4" y="403" class="xl" transform="rotate(-45 371.4 403)">HC</text>
<rect x="378.8" y="384.94" width="10.6" height="9.46"/>
<line x1="384.1" y1="381.84" x2="384.1" y2="384.94" class="eb"/>
<line x1="381.6" y1="381.84" x2="386.6" y2="381.84" class="eb"/>
<line x1="384.1" y1="394.4" x2="384.1" y2="397" class="ax"/>
<text x="385.3" y="403" class="xl" transform="rotate(-45 385.3 403)">aUC</text>
<rect x="392.7" y="317.69" width="10.6" height="76.71"/>
<line x1="398" y1="299.63" x2="398" y2="317.69" class="eb"/>
<line x1="395.5" y1="299.63" x2="400.5" y2="299.63" class="eb"/>
<line x1="398" y1="394.4" x2="398" y2="397" class="ax"/>
<text x="399.2" y="403" class="xl" transform="rotate(-45 399.2 403)">qUC</text>
<rect x="406.6" y="369.8" width="10.6" height="24.6"/>
<line x1="411.9" y1="359.48" x2="411.9" y2="369.8" class="eb"/>
<line x1="409.4" y1="359.48" x2="414.4" y2="359.48" class="eb"/>
<line x1="411.9" y1="394.4" x2="411.9" y2="397" class="ax"/>
<text x="413.1" y="403" class="xl" transform="rotate(-45 413.1 403)">aCD</text>
<rect x="420.5" y="322.5" width="10.6" height="71.9"/>
<line x1="425.8" y1="305.82" x2="425.8" y2="322.5" class="eb"/>
<line x1="423.3" y1="305.82" x2="428.3" y2="305.82" class="eb"/>
<line x1="425.8" y1="394.4" x2="425.8" y2="397" class="ax"/>
<text x="427" y="403" class="xl" transform="rotate(-45 427 403)">qCD</text>
<text x="344.85" y="342.65" class="yl" textLength="83.9" lengthAdjust="spacingAndGlyphs" transform="rotate(-90 344.85 342.65)">% of CCR6<tspan class="sup" dy="-3.6">+</tspan><tspan dy="3.6" dx="0.8"> on cDC2</tspan></text>
<line x1="469.3" y1="290.7" x2="469.3" y2="395" class="ax"/>
<line x1="468.7" y1="394.4" x2="538.4" y2="394.4" class="ax"/>
<line x1="466.7" y1="394.4" x2="469.3" y2="394.4" class="ax"/>
<text x="465.1" y="396.4" class="tk">0</text>
<line x1="466.7" y1="373.76" x2="469.3" y2="373.76" class="ax"/>
<text x="465.1" y="375.76" class="tk">10</text>
<line x1="466.7" y1="353.12" x2="469.3" y2="353.12" class="ax"/>
<text x="465.1" y="355.12" class="tk">20</text>
<line x1="466.7" y1="332.48" x2="469.3" y2="332.48" class="ax"/>
<text x="465.1" y="334.48" class="tk">30</text>
<line x1="466.7" y1="311.84" x2="469.3" y2="311.84" class="ax"/>
<text x="465.1" y="313.84" class="tk">40</text>
<line x1="466.7" y1="291.2" x2="469.3" y2="291.2" class="ax"/>
<text x="465.1" y="293.2" class="tk">50</text>
<rect x="471" y="388.87" width="10.6" height="5.53"/>
<line x1="476.3" y1="385.15" x2="476.3" y2="388.87" class="eb"/>
<line x1="473.8" y1="385.15" x2="478.8" y2="385.15" class="eb"/>
<line x1="476.3" y1="394.4" x2="476.3" y2="397" class="ax"/>
<text x="477.5" y="403" class="xl" transform="rotate(-45 477.5 403)">HC</text>
<rect x="484.93" y="392.09" width="10.6" height="2.31"/>
<line x1="490.23" y1="391.3" x2="490.23" y2="392.09" class="eb"/>
<line x1="487.73" y1="391.3" x2="492.73" y2="391.3" class="eb"/>
<line x1="490.23" y1="394.4" x2="490.23" y2="397" class="ax"/>
<text x="491.43" y="403" class="xl" transform="rotate(-45 491.43 403)">aUC</text>
<rect x="498.86" y="328.76" width="10.6" height="65.64"/>
<line x1="504.16" y1="301.52" x2="504.16" y2="328.76" class="eb"/>
<line x1="501.66" y1="301.52" x2="506.66" y2="301.52" class="eb"/>
<line x1="504.16" y1="394.4" x2="504.16" y2="397" class="ax"/>
<text x="505.36" y="403" class="xl" transform="rotate(-45 505.36 403)">qUC</text>
<rect x="512.79" y="393.88" width="10.6" height="0.52"/>
<line x1="518.09" y1="394.4" x2="518.09" y2="397" class="ax"/>
<text x="519.29" y="403" class="xl" transform="rotate(-45 519.29 403)">aCD</text>
<rect x="526.72" y="355.29" width="10.6" height="39.11"/>
<line x1="532.02" y1="351.88" x2="532.02" y2="355.29" class="eb"/>
<line x1="529.52" y1="351.88" x2="534.52" y2="351.88" class="eb"/>
<line x1="532.02" y1="394.4" x2="532.02" y2="397" class="ax"/>
<text x="533.22" y="403" class="xl" transform="rotate(-45 533.22 403)">qCD</text>
<text x="450.2" y="342.65" class="yl" textLength="83.9" lengthAdjust="spacingAndGlyphs" transform="rotate(-90 450.2 342.65)">% of CCR9<tspan class="sup" dy="-3.6">+</tspan><tspan dy="3.6" dx="0.8"> on cDC2</tspan></text>
<line x1="170" y1="305.3" x2="184.9" y2="305.3" class="sg"/>
<text x="178.4" y="306.2" class="st">*</text>
<line x1="369.9" y1="289" x2="384.7" y2="289" class="sg"/>
<text x="376.95" y="289.8" class="st">**</text>
<line x1="384.7" y1="297" x2="399.7" y2="297" class="sg"/>
<text x="391.9" y="297.3" class="st">**</text>
<line x1="475.1" y1="289.9" x2="503.1" y2="289.9" class="sg"/>
<text x="488.2" y="287.9" class="st">*</text>
<line x1="489.1" y1="297.4" x2="503.8" y2="297.4" class="sg"/>
<text x="496.3" y="297.8" class="st">*</text>
</svg>
</body></html>
